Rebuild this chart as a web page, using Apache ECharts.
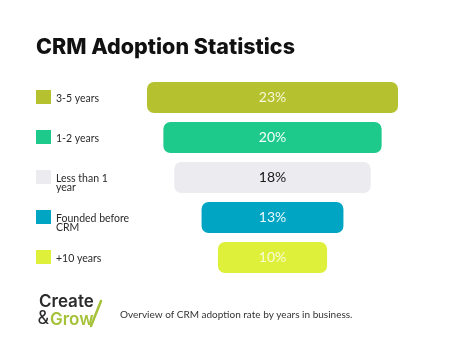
<!DOCTYPE html>
<html><head><meta charset="utf-8">
<script src="https://cdn.jsdelivr.net/npm/echarts@6/dist/echarts.min.js"></script>
<style>html,body{margin:0;padding:0;background:#fff}#c{width:474px;height:355px}</style>
</head><body><div id="c"></div>
<script>
const categories = ['3-5 years', '1-2 years', 'Less than 1\nyear', 'Founded before\nCRM', '+10 years'];
const values = [23, 20, 18, 13, 10];
const colors = ['#b6c12f', '#1dc98b', '#ebebf0', '#00a5c4', '#dff03b'];
const labelColors = ['#f4f7d8', '#f4fff9', '#1a1a1a', '#e9f8fb', '#f7fbd8'];
const titleText = 'CRM Adoption Statistics';
const captionText = 'Overview of CRM adoption rate by years in business.';

const maxV = Math.max(...values);
const chart = echarts.init(document.getElementById('c'), null, {renderer: 'canvas'});

const series = [{
  name: 'offset', type: 'bar', stack: 'f', barWidth: 31, silent: true,
  itemStyle: {color: 'transparent'},
  data: values.map(v => (maxV - v) / 2)
}];
categories.forEach((c, i) => {
  series.push({
    name: c, type: 'bar', stack: 'f', barWidth: 31,
    itemStyle: {color: colors[i], borderRadius: 7},
    label: {show: true, position: 'inside', formatter: '{c}%', color: labelColors[i],
            fontFamily: 'Lato', fontSize: 14},
    data: values.map((v, j) => j === i ? v : '-')
  });
});

chart.setOption({
  animation: false,
  backgroundColor: '#ffffff',
  grid: {left: 147, right: 76, top: 77.5, bottom: 77.5},
  xAxis: {type: 'value', min: 0, max: maxV, show: false},
  yAxis: {type: 'category', data: categories, inverse: true, show: false},
  series: series
});

const elements = [
  {type: 'text', x: 36, y: 47.5, style: {text: titleText, fill: '#111111',
    font: '800 21.5px Inter', verticalAlign: 'middle'}},
  {type: 'text', x: 39, y: 310, style: {text: 'Create', fill: '#2b2b2b',
    font: '600 17px Inter', verticalAlign: 'bottom'}},
  {type: 'text', x: 37.5, y: 328, style: {text: '&', fill: '#2b2b2b',
    font: '400 18px Inter', verticalAlign: 'bottom'}},
  {type: 'text', x: 50, y: 328, style: {text: 'Grow', fill: '#a5c23a',
    font: '600 17px Inter', verticalAlign: 'bottom'}},
  {type: 'line', shape: {x1: 91, y1: 326, x2: 101, y2: 301},
    style: {stroke: '#a5c23a', lineWidth: 2.5, lineCap: 'round'}},
  {type: 'text', x: 120, y: 315, style: {text: captionText, fill: '#333333',
    font: '10px Lato', verticalAlign: 'middle'}}
];
categories.forEach((c, i) => {
  const cy = chart.convertToPixel({yAxisIndex: 0}, i);
  const multi = c.indexOf('\n') >= 0;
  elements.push({type: 'rect', shape: {x: 36, y: cy - 7.5, width: 15, height: 14},
    style: {fill: colors[i]}});
  elements.push({type: 'text', x: 56, y: cy + (multi ? 6 : 1), style: {text: c,
    fill: '#2a2a2a', font: '10.5px Lato', lineHeight: 9, verticalAlign: 'middle'}});
});
chart.setOption({graphic: {elements: elements}});
</script></body></html>
